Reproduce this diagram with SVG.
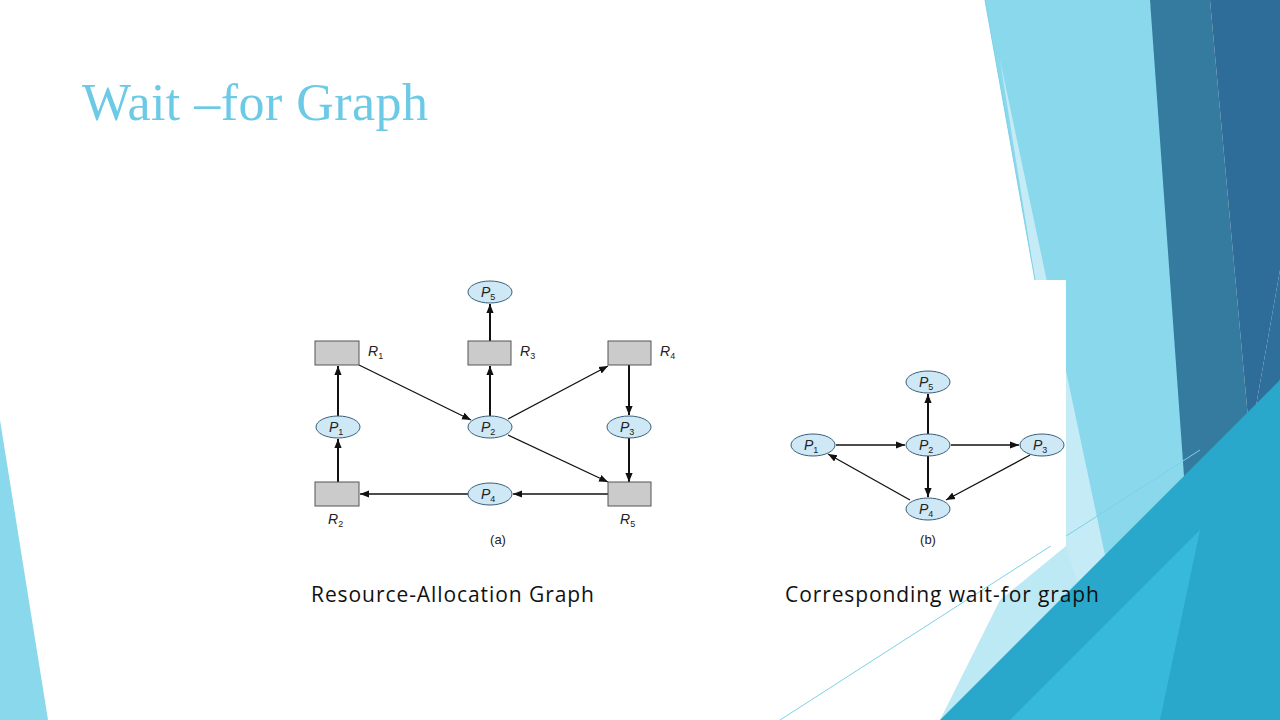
<svg xmlns="http://www.w3.org/2000/svg" width="1280" height="720" viewBox="0 0 1280 720">
<defs>
<marker id="ah" viewBox="0 0 10 10" refX="10" refY="5" markerWidth="9" markerHeight="9" markerUnits="userSpaceOnUse" orient="auto"><path d="M0,1 L10,5 L0,9 z" fill="#111"/></marker>
<style>
.r{fill:#cbcbcb;stroke:#555;stroke-width:1}
.p{fill:#cfe8f6;stroke:#3a5f7a;stroke-width:1}
.l{font-family:"Liberation Sans",sans-serif;font-style:italic;font-size:14px;fill:#222}
.s{font-size:9px;font-style:normal}
.e{stroke:#111;stroke-width:2;fill:none;marker-end:url(#ah)}
.e2{stroke:#111;stroke-width:1.3;fill:none;marker-end:url(#ah)}
.cap{font-family:"Open Sans","DejaVu Sans",sans-serif;font-size:21px;fill:#111}
</style>
</defs>
<rect width="1280" height="720" fill="#fff"/>
<g id="background">
<polygon points="0,420 48,720 0,720" fill="#8ad8ec"/>
<polygon points="985,0 1150,0 1250,720 1000,720 1066,546 1066,280 1035,280" fill="#8ad8ec"/>
<polygon points="1000,60 1140,720 1066,720 1066,280 1035,280" fill="#c4ebf6"/>
<polygon points="1066,546 1120,720 940,720 1000,600" fill="#bde9f4"/>
<polygon points="1150,0 1210,0 1250,440 1190,560" fill="#357a9f"/>
<polygon points="1210,0 1280,0 1280,270 1250,440" fill="#2e6c99"/>
<polygon points="1280,270 1280,380 1190,560 1250,440" fill="#2f6f9c"/>
<polygon points="940,720 1280,380 1280,720" fill="#2aa8cc"/>
<polygon points="1010,720 1200,530 1160,720" fill="#3cc0e0" opacity="0.7"/>
<line x1="985" y1="0" x2="1035" y2="280" stroke="#7cd0e8" stroke-width="1"/>
<line x1="780" y1="720" x2="1200" y2="450" stroke="#7cd0e8" stroke-width="1"/>
</g>
<rect x="700" y="280" width="366" height="266" fill="#fff"/>
<text x="82" y="120" font-family="Liberation Serif,serif" font-size="52" fill="#6ccae6" textLength="346">Wait –for Graph</text>
<g id="connectors">
<line class="e" x1="338" y1="482" x2="338" y2="439"/>
<line class="e" x1="338" y1="416" x2="338" y2="366"/>
<line class="e2" x1="359" y1="365" x2="471" y2="420"/>
<line class="e" x1="490" y1="416" x2="490" y2="366"/>
<line class="e" x1="490" y1="341" x2="490" y2="304"/>
<line class="e2" x1="508" y1="419" x2="608" y2="366"/>
<line class="e2" x1="508" y1="435" x2="608" y2="482"/>
<line class="e" x1="629" y1="365" x2="629" y2="415"/>
<line class="e" x1="629" y1="438" x2="629" y2="482"/>
<line class="e2" x1="608" y1="494" x2="513" y2="494"/>
<line class="e2" x1="468" y1="494" x2="360" y2="494"/>
<line class="e2" x1="836" y1="445" x2="905" y2="445"/>
<line class="e2" x1="951" y1="445" x2="1019" y2="445"/>
<line class="e" x1="928" y1="434" x2="928" y2="394"/>
<line class="e" x1="928" y1="456" x2="928" y2="497"/>
<line class="e2" x1="1030" y1="455" x2="946" y2="500"/>
<line class="e2" x1="910" y1="500" x2="828" y2="454"/>
</g>
<g id="R1"><rect class="r" x="315" y="341" width="44" height="24"/><text class="l" x="368" y="356">R<tspan class="s" dy="3">1</tspan></text></g>
<g id="R3"><rect class="r" x="468" y="341" width="43" height="24"/><text class="l" x="520" y="356">R<tspan class="s" dy="3">3</tspan></text></g>
<g id="R4"><rect class="r" x="608" y="341" width="43" height="24"/><text class="l" x="660" y="356">R<tspan class="s" dy="3">4</tspan></text></g>
<g id="R2"><rect class="r" x="315" y="482" width="44" height="24"/><text class="l" x="328" y="524">R<tspan class="s" dy="3">2</tspan></text></g>
<g id="R5"><rect class="r" x="608" y="482" width="43" height="24"/><text class="l" x="620" y="524">R<tspan class="s" dy="3">5</tspan></text></g>
<g id="aP5"><ellipse class="p" cx="490" cy="292" rx="22" ry="11"/><text class="l" x="481" y="297">P<tspan class="s" dy="3">5</tspan></text></g>
<g id="aP1"><ellipse class="p" cx="338" cy="427" rx="22" ry="11"/><text class="l" x="329" y="432">P<tspan class="s" dy="3">1</tspan></text></g>
<g id="aP2"><ellipse class="p" cx="490" cy="427" rx="22" ry="11"/><text class="l" x="481" y="432">P<tspan class="s" dy="3">2</tspan></text></g>
<g id="aP3"><ellipse class="p" cx="629" cy="427" rx="22" ry="11"/><text class="l" x="620" y="432">P<tspan class="s" dy="3">3</tspan></text></g>
<g id="aP4"><ellipse class="p" cx="490" cy="494" rx="22" ry="11"/><text class="l" x="481" y="499">P<tspan class="s" dy="3">4</tspan></text></g>
<text x="498" y="544" font-family="Liberation Sans,sans-serif" font-size="13" text-anchor="middle" fill="#222">(a)</text>
<g id="bP5"><ellipse class="p" cx="928" cy="382" rx="22" ry="11"/><text class="l" x="919" y="387">P<tspan class="s" dy="3">5</tspan></text></g>
<g id="bP1"><ellipse class="p" cx="813" cy="445" rx="22" ry="11"/><text class="l" x="804" y="450">P<tspan class="s" dy="3">1</tspan></text></g>
<g id="bP2"><ellipse class="p" cx="928" cy="445" rx="22" ry="11"/><text class="l" x="919" y="450">P<tspan class="s" dy="3">2</tspan></text></g>
<g id="bP3"><ellipse class="p" cx="1042" cy="445" rx="22" ry="11"/><text class="l" x="1033" y="450">P<tspan class="s" dy="3">3</tspan></text></g>
<g id="bP4"><ellipse class="p" cx="928" cy="509" rx="22" ry="11"/><text class="l" x="919" y="514">P<tspan class="s" dy="3">4</tspan></text></g>
<text x="928" y="544" font-family="Liberation Sans,sans-serif" font-size="13" text-anchor="middle" fill="#222">(b)</text>
<text class="cap" x="311" y="602" textLength="283">Resource-Allocation Graph</text>
<text class="cap" x="785" y="602" textLength="314">Corresponding wait-for graph</text>
</svg>
